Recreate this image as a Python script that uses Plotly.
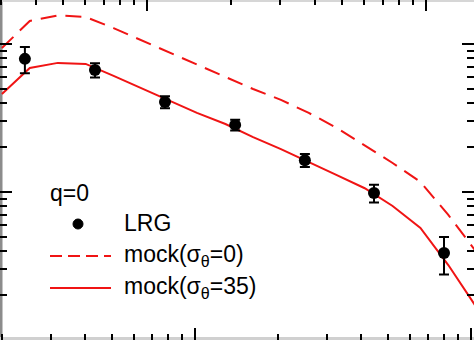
import plotly.graph_objects as go

# LRG measurements (top-axis separation, amplitude, 1-sigma error)
lrg_x = [3.65, 6.51, 11.6, 20.7, 36.8, 65.1, 116]
lrg_y = [79.3, 66.7, 40.6, 28.4, 16.4, 9.84, 3.87]
lrg_err = [16, 7.3, 3.8, 2.4, 1.65, 1.36, 1.1]

# mock predictions on a 0.1-dex grid
mock_x = [3.02, 3.80, 4.79, 6.03, 7.59, 9.55, 12.0, 15.1, 19.1, 24.0,
          30.2, 38.0, 47.9, 60.3, 75.9, 95.5, 120.2, 151.4]
mock0_y = [93.9, 143, 156, 152, 128, 106, 88.3, 73.3, 59.8, 49.6,
           41.9, 34.2, 27.1, 20.5, 15.7, 11.7, 7.0, 3.94]
mock35_y = [45.9, 68.9, 74.5, 73.3, 60.8, 50.0, 41.2, 34.2, 28.8, 23.5,
            19.5, 16.0, 13.0, 10.6, 8.04, 5.71, 3.21, 1.67]

legend_title = "q=0"
legend_labels = ["LRG", "mock(σ<sub>θ</sub>=0)", "mock(σ<sub>θ</sub>=35)"]

W, H = 474, 340
RED = "#f01414"
FONT = "Liberation Sans, Arial, sans-serif"

fig = go.Figure()
# empty trace that anchors the bottom axis so its ticks are drawn
fig.add_trace(go.Scatter(x=[], y=[], mode="lines", xaxis="x", yaxis="y",
                         showlegend=False, hoverinfo="skip"))
fig.add_trace(go.Scatter(x=mock_x, y=mock0_y, mode="lines", xaxis="x2", yaxis="y",
                         line=dict(color=RED, width=2, dash="16px,9px"), showlegend=False))
fig.add_trace(go.Scatter(x=mock_x, y=mock35_y, mode="lines", xaxis="x2", yaxis="y",
                         line=dict(color=RED, width=2), showlegend=False))
fig.add_trace(go.Scatter(x=lrg_x, y=lrg_y, mode="markers", xaxis="x2", yaxis="y",
                         marker=dict(color="black", size=12),
                         error_y=dict(type="data", array=lrg_err, color="black",
                                      thickness=2, width=5),
                         showlegend=False))

tick_common = dict(type="log", ticks="inside", tickcolor="black", tickwidth=1.5,
                   dtick=1, showticklabels=False, showgrid=False, zeroline=False,
                   showline=False)

fig.update_layout(
    width=W, height=H,
    margin=dict(l=0, r=0, t=0, b=0),
    paper_bgcolor="white", plot_bgcolor="white",
    font=dict(family=FONT, color="black", size=23),
    xaxis=dict(range=[0.2935, 2.0109], ticklen=12, side="bottom",
               minor=dict(ticks="inside", ticklen=6, tickcolor="black", tickwidth=1.5,
                          dtick="D1", showgrid=False),
               **tick_common),
    xaxis2=dict(range=[0.4731, 2.172], overlaying="x", side="top", ticklen=11,
                anchor="y",
                minor=dict(ticks="inside", ticklen=5, tickcolor="black", tickwidth=1.5,
                           dtick="D1", showgrid=False),
                **tick_common),
    yaxis=dict(range=[0.0, 2.297], ticklen=12, mirror="ticks",
               minor=dict(ticks="inside", ticklen=7, tickcolor="black", tickwidth=1.5,
                          dtick="D1", showgrid=False),
               **tick_common),
)

def px(x):
    return x / W

def py(y):
    return 1 - y / H

# frame edges
fig.add_shape(type="line", xref="paper", yref="paper", x0=px(1), x1=px(1), y0=0, y1=1,
              line=dict(color="#8c8c8c", width=3), layer="below")
fig.add_shape(type="line", xref="paper", yref="paper", x0=0, x1=1, y0=py(1), y1=py(1),
              line=dict(color="#d6d6d6", width=2), layer="below")
fig.add_shape(type="line", xref="paper", yref="paper", x0=0, x1=1, y0=py(338.5), y1=py(338.5),
              line=dict(color="#d0d0d0", width=3), layer="below")

# legend block
fig.add_annotation(text=legend_title, xref="paper", yref="paper", x=px(48), y=py(193),
                   xanchor="left", yanchor="middle", showarrow=False, font=dict(size=23))
fig.add_shape(type="circle", xref="paper", yref="paper", x0=px(73), x1=px(83),
              y0=py(229), y1=py(219), fillcolor="black", line=dict(color="black", width=1))
fig.add_shape(type="line", xref="paper", yref="paper", x0=px(50), x1=px(111),
              y0=py(256), y1=py(256), line=dict(color=RED, width=2, dash="12px,6px"))
fig.add_shape(type="line", xref="paper", yref="paper", x0=px(50), x1=px(111),
              y0=py(288), y1=py(288), line=dict(color=RED, width=2))
for label, yy in zip(legend_labels, [223, 255, 287]):
    fig.add_annotation(text=label, xref="paper", yref="paper", x=px(122), y=py(yy),
                       xanchor="left", yanchor="middle", showarrow=False,
                       font=dict(size=23))

fig.write_html("out.html")
